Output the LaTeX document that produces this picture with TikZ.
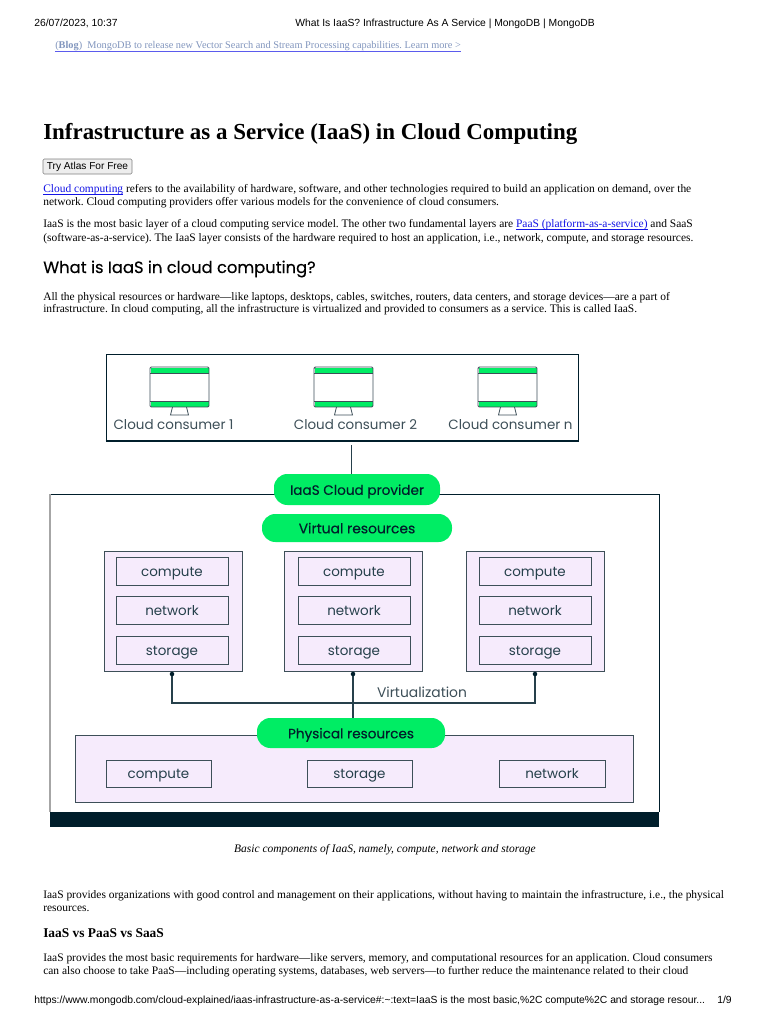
\documentclass[tikz,border=0pt]{standalone}
\usepackage{fontspec}
\setmainfont{Liberation Serif}
\newfontfamily\headfont{Liberation Sans}
\newfontfamily\diagfont{Poppins}
\newfontfamily\diagmed[FakeBold=0.25]{Poppins}
\usetikzlibrary{arrows.meta,positioning,calc}
\definecolor{leafgreen}{RGB}{0,237,100}
\definecolor{inkdark}{RGB}{0,30,43}
\definecolor{panelpurple}{RGB}{246,235,252}
\definecolor{edgegray}{RGB}{61,79,88}
\definecolor{linkblue}{RGB}{20,20,230}
\definecolor{fadedlink}{RGB}{130,150,190}
\newcommand{\weblink}[1]{\textcolor{linkblue}{\underline{\smash{#1}}}}
\frenchspacing
\tikzset{
  sized/.style 2 args={minimum width=#1*0.75pt,minimum height=#2*0.75pt},
  bodyline/.style={anchor=base west,inner sep=0pt,font=\fontsize{8.6}{10}\selectfont},
  pagehead/.style={anchor=base west,inner sep=0pt,font=\headfont\fontsize{7.75}{9}\selectfont},
  panel/.style={draw=edgegray,fill=panelpurple,line width=0.6pt,inner sep=0pt},
  slot/.style={panel,sized={112}{28},font=\diagfont\fontsize{10.1}{12}\selectfont,text=inkdark!85,text height=9pt,text depth=1pt},
  pill/.style={fill=leafgreen,rounded corners=10pt,inner sep=0pt,text=inkdark,text height=9pt,text depth=1pt},
  consumertext/.style={inner sep=0pt,text=edgegray,font=\diagfont\fontsize{10.1}{12}\selectfont},
  wire/.style={draw=inkdark!85,line width=0.9pt}
}
\begin{document}
\begin{tikzpicture}[x=0.75pt,y=-0.75pt,>=Latex]
  \useasboundingbox (0,0) rectangle (768,1024);
  \fill[white] (0,0) rectangle (768,1024);
  \node[pagehead] (stamp) at (34,27) {26/07/2023, 10:37};
  \node[pagehead,anchor=base] (pagetitle) at (445,27) {What Is IaaS? Infrastructure As A Service | MongoDB | MongoDB};
  \node[bodyline,font=\fontsize{7.74}{9}\selectfont] (banner) at (55,49)
     {\textcolor{linkblue!70}{\underline{\smash{\textcolor{fadedlink}{(\textbf{Blog})\ \ MongoDB to release new Vector Search and Stream Processing capabilities. Learn more >}}}}};
  \node[bodyline,font=\bfseries\fontsize{17.2}{19}\selectfont] (title) at (43,139) {Infrastructure as a Service (IaaS) in Cloud Computing};
  \node[draw=gray,fill=black!7,rounded corners=1pt,inner sep=0pt,sized={89}{15},font=\headfont\fontsize{7.6}{9}\selectfont] (atlas) at (87.5,166.5) {Try Atlas For Free};
  \node[bodyline] (introA) at (43,192) {\weblink{Cloud computing} refers to the availability of hardware, software, and other technologies required to build an application on demand, over the};
  \node[bodyline] (introB) at (43,205) {network. Cloud computing providers offer various models for the convenience of cloud consumers.};
  \node[bodyline] (layerA) at (43,227) {IaaS is the most basic layer of a cloud computing service model. The other two fundamental layers are \weblink{PaaS (platform-as-a-service)} and SaaS};
  \node[bodyline] (layerB) at (43,241) {(software-as-a-service). The IaaS layer consists of the hardware required to host an application, i.e., network, compute, and storage resources.};
  \node[bodyline,font=\diagmed\fontsize{12.25}{14}\selectfont] (whatis) at (43,273) {What is IaaS in cloud computing?};
  \node[bodyline] (physA) at (43,300) {All the physical resources or hardware---like laptops, desktops, cables, switches, routers, data centers, and storage devices---are a part of};
  \node[bodyline] (physB) at (43,312) {infrastructure. In cloud computing, all the infrastructure is virtualized and provided to consumers as a service. This is called IaaS.};

  % consumers
  \node[draw=inkdark,line width=0.6pt,inner sep=0pt,sized={472}{87}] (consumers) at (342,397.5) {};
  \draw[inkdark,line width=1.5pt] (consumers.south west)--(consumers.south east);
  \foreach \mx in {179.5,343.5,507.5}{
    \draw[edgegray,line width=0.6pt] (\mx-7,407) -- (\mx-9,415) -- (\mx+9,415) -- (\mx+7,407);
    \fill[leafgreen] (\mx-29,368) rectangle (\mx+29,373);
    \fill[leafgreen] (\mx-29,401) rectangle (\mx+29,406.5);
    \draw[edgegray,line width=0.7pt,rounded corners=1pt] (\mx-29.5,367) rectangle (\mx+29.5,407);
    \draw[edgegray,line width=0.5pt] (\mx-29.5,373) -- (\mx+29.5,373) (\mx-29.5,401) -- (\mx+29.5,401);
  }
  \node[consumertext] (consumerA) at (173.5,425) {Cloud consumer 1};
  \node[consumertext] (consumerB) at (355.5,425) {Cloud consumer 2};
  \node[consumertext] (consumerN) at (510.5,425) {Cloud consumer n};

  % provider frame
  \draw[inkdark,line width=0.6pt] (50,494) -- (659,494) -- (659,812);
  \draw[gray!70,line width=0.8pt] (50,494) -- (50,812);
  \fill[inkdark] (50,812) rectangle (659,827);
  \coordinate (uplink) at (351,445);
  \node[pill,sized={166}{31},font=\diagmed\fontsize{10.2}{12}\selectfont] (provider) at (357,489.5) {IaaS Cloud provider};
  \draw[wire,line width=0.7pt] (provider.north -| uplink) -- (uplink);
  \node[pill,sized={190}{28},font=\diagmed\fontsize{10.4}{12}\selectfont] (virtual) at (357,528) {Virtual resources};

  % virtual resources
  \foreach \nm/\cx/\sx in {L/173/172,M/353.5/354,R/535.5/535}{
    \node[panel,sized={138}{120}] (vbox\nm) at (\cx,611) {};
    \node[slot] (compute\nm) at (\sx,571) {compute};
    \node[slot] (network\nm) at (\sx,610.5) {network};
    \node[slot] (storage\nm) at (\sx,650) {storage};
  }
  \node[inner sep=0pt,text=edgegray,font=\diagfont\fontsize{10.4}{12}\selectfont] (virtlabel) at (422,692) {Virtualization};

  % physical resources
  \node[panel,sized={558}{67}] (physical) at (354,768.5) {};
  \node[pill,sized={188}{30},font=\diagmed\fontsize{10.2}{12}\selectfont] (physpill) at (351,733) {Physical resources};
  \node[slot,sized={105}{27}] (physcompute) at (158.5,773.5) {compute};
  \node[slot,sized={105}{27}] (physstorage) at (359.5,773.5) {storage};
  \node[slot,sized={106}{27}] (physnetwork) at (552,773.5) {network};

  \coordinate (dotL) at (172,674);
  \coordinate (dotM) at (353,674);
  \coordinate (dotR) at (535,674);
  \coordinate (joint) at (353,703);
  \draw[wire] (dotL) -- (dotL |- joint) -- (dotR |- joint) -- (dotR);
  \draw[wire] (dotM) -- (dotM |- physpill.north);
  \foreach \d in {dotL,dotM,dotR}{\fill[inkdark] (\d) circle (1.7pt);}

  \node[bodyline,anchor=base,font=\itshape\fontsize{8.6}{10}\selectfont] (caption) at (385,852) {Basic components of IaaS, namely, compute, network and storage};
  \node[bodyline] (provA) at (43,898) {IaaS provides organizations with good control and management on their applications, without having to maintain the infrastructure, i.e., the physical};
  \node[bodyline] (provB) at (43,911) {resources.};
  \node[bodyline,font=\bfseries\fontsize{10.05}{12}\selectfont] (versus) at (43,937) {IaaS vs PaaS vs SaaS};
  \node[bodyline] (reqA) at (43,961) {IaaS provides the most basic requirements for hardware---like servers, memory, and computational resources for an application. Cloud consumers};
  \node[bodyline] (reqB) at (43,974) {can also choose to take PaaS---including operating systems, databases, web servers---to further reduce the maintenance related to their cloud};
  \node[pagehead] (address) at (34,1003) {https://www.mongodb.com/cloud-explained/iaas-infrastructure-as-a-service\#:\textasciitilde:text=IaaS is the most basic,\%2C compute\%2C and storage resour...};
  \node[pagehead] (pagenum) at (717,1003) {1/9};
\end{tikzpicture}
\end{document}
